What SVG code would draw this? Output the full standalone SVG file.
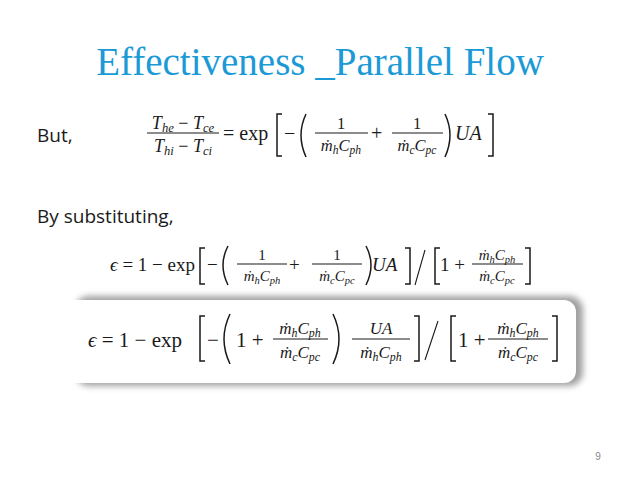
<svg xmlns="http://www.w3.org/2000/svg" width="638" height="478" viewBox="0 0 638 478">
<defs>
<style>
.t{font-family:"Liberation Serif",serif;fill:#1a1a1a}
.i{font-style:italic}
.s{font-size:70%}
.d{fill:none;stroke:#1a1a1a;stroke-width:1.5}
.b{stroke:#1a1a1a;stroke-width:1.1}
.lbl{font-family:"Open Sans","Liberation Sans",sans-serif;font-size:19px;fill:#1a1a1a}
</style>
<filter id="sh" x="-5%" y="-20%" width="110%" height="140%"><feGaussianBlur stdDeviation="3"/></filter>
</defs>
<rect width="638" height="478" fill="#fff"/>
<g id="title"><text x="320" y="75" text-anchor="middle" font-family="Liberation Serif,serif" font-size="39" fill="#1b9ad6">Effectiveness _Parallel Flow</text></g>
<g id="but"><text x="37" y="142" class="lbl">But,</text></g>
<g id="bysub"><text x="37" y="223" class="lbl">By substituting,</text></g>
<g id="page"><text x="598" y="460" font-family="Liberation Sans,sans-serif" font-size="10" fill="#888" text-anchor="middle">9</text></g>

<g id="eq1" class="t" font-size="20">
<g font-size="18" text-anchor="middle"><text x="183" y="129"><tspan class="i">T</tspan><tspan class="i s" dy="3">he</tspan><tspan dy="-3"> − </tspan><tspan class="i">T</tspan><tspan class="i s" dy="3">ce</tspan></text>
<text x="183" y="152"><tspan class="i">T</tspan><tspan class="i s" dy="3">hi</tspan><tspan dy="-3"> − </tspan><tspan class="i">T</tspan><tspan class="i s" dy="3">ci</tspan></text></g>
<line class="b" x1="147" y1="133" x2="219" y2="133"/>
<text x="223" y="140">= exp</text>
<path class="d" d="M282,114h-5v42h5"/>
<text x="284" y="140">−</text>
<path class="d" d="M306,114Q296,135 306,157"/>
<g font-size="16.5" text-anchor="middle"><text x="341" y="129">1</text><text x="341" y="151" class="i">ṁ<tspan class="s" dy="3">h</tspan><tspan dy="-3">C</tspan><tspan class="s" dy="3">ph</tspan></text>
<text x="417" y="129">1</text><text x="417" y="151" class="i">ṁ<tspan class="s" dy="3">c</tspan><tspan dy="-3">C</tspan><tspan class="s" dy="3">pc</tspan></text></g>
<line class="b" x1="315" y1="133" x2="368" y2="133"/><line class="b" x1="392" y1="133" x2="443" y2="133"/>
<text x="371" y="140">+</text>
<path class="d" d="M445,114Q455,135 445,157"/>
<text x="455" y="140" class="i">UA</text>
<path class="d" d="M488,114h5v42h-5"/>
</g>

<g id="eq2" class="t" font-size="19">
<text x="110" y="271"><tspan class="i">ϵ</tspan> = 1 − exp</text>
<path class="d" d="M205,248h-5v36h5"/>
<text x="207" y="271">−</text>
<path class="d" d="M228,246Q218,265 228,285"/>
<g font-size="15" text-anchor="middle"><text x="262" y="260">1</text><text x="262" y="281" class="i">ṁ<tspan class="s" dy="3">h</tspan><tspan dy="-3">C</tspan><tspan class="s" dy="3">ph</tspan></text>
<text x="337" y="260">1</text><text x="337" y="281" class="i">ṁ<tspan class="s" dy="3">c</tspan><tspan dy="-3">C</tspan><tspan class="s" dy="3">pc</tspan></text>
<text x="497" y="260" class="i">ṁ<tspan class="s" dy="3">h</tspan><tspan dy="-3">C</tspan><tspan class="s" dy="3">ph</tspan></text><text x="497" y="281" class="i">ṁ<tspan class="s" dy="3">c</tspan><tspan dy="-3">C</tspan><tspan class="s" dy="3">pc</tspan></text></g>
<line class="b" x1="237" y1="264" x2="287" y2="264"/><line class="b" x1="312" y1="264" x2="362" y2="264"/><line class="b" x1="472" y1="264" x2="523" y2="264"/>
<text x="289" y="271">+</text>
<path class="d" d="M366,246Q376,265 366,285"/>
<text x="372" y="271" class="i">UA</text>
<path class="d" d="M405,248h5v36h-5"/>
<line class="b" x1="425" y1="250" x2="415" y2="285" stroke-width="1.4"/>
<path class="d" d="M440,248h-5v36h5"/>
<text x="440" y="271">1 +</text>
<path class="d" d="M525,248h5v36h-5"/>
</g>

<g id="box">
<rect x="75" y="296" width="508" height="90" rx="14" fill="#a0a0a0" filter="url(#sh)"/>
<rect x="58" y="300" width="518" height="83" rx="12" fill="#fff"/>
</g>

<g id="eq3" class="t" font-size="21">
<text x="88" y="347"><tspan class="i">ϵ</tspan>  = 1 − exp</text>
<path class="d" d="M205,316h-5v45h5"/>
<text x="207" y="347">−</text>
<path class="d" d="M230,314Q218,339 230,364"/>
<text x="236" y="347">1 +</text>
<g font-size="17" text-anchor="middle"><text x="300" y="334" class="i">ṁ<tspan class="s" dy="3">h</tspan><tspan dy="-3">C</tspan><tspan class="s" dy="3">ph</tspan></text><text x="300" y="358" class="i">ṁ<tspan class="s" dy="3">c</tspan><tspan dy="-3">C</tspan><tspan class="s" dy="3">pc</tspan></text>
<text x="381" y="334" class="i">UA</text><text x="381" y="358" class="i">ṁ<tspan class="s" dy="3">h</tspan><tspan dy="-3">C</tspan><tspan class="s" dy="3">ph</tspan></text>
<text x="518" y="334" class="i">ṁ<tspan class="s" dy="3">h</tspan><tspan dy="-3">C</tspan><tspan class="s" dy="3">ph</tspan></text><text x="518" y="358" class="i">ṁ<tspan class="s" dy="3">c</tspan><tspan dy="-3">C</tspan><tspan class="s" dy="3">pc</tspan></text></g>
<line class="b" x1="273" y1="339" x2="328" y2="339"/><line class="b" x1="352" y1="339" x2="410" y2="339"/><line class="b" x1="488" y1="339" x2="548" y2="339"/>
<path class="d" d="M333,314Q345,339 333,364"/>
<path class="d" d="M414,316h5v45h-5"/>
<line class="b" x1="438" y1="321" x2="425" y2="360" stroke-width="1.5"/>
<path class="d" d="M456,316h-5v45h5"/>
<text x="458" y="347">1 +</text>
<path class="d" d="M552,316h5v45h-5"/>
</g>
</svg>
